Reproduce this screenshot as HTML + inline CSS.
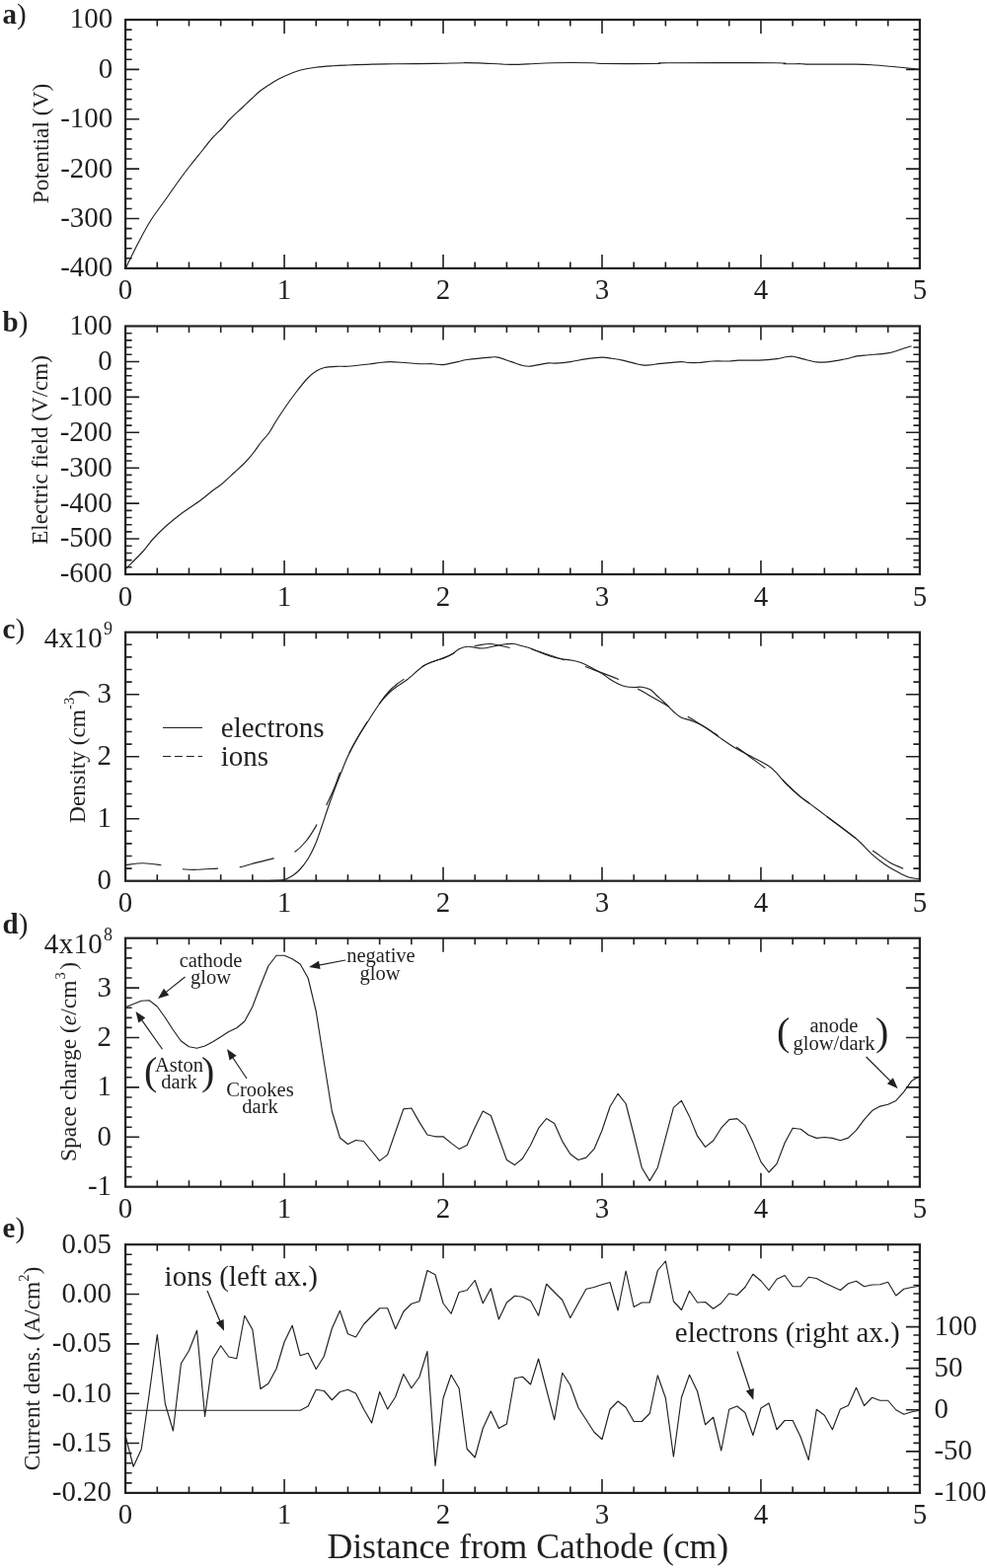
<!DOCTYPE html>
<html lang="en"><head><meta charset="utf-8"><title>Glow discharge profiles</title>
<style>
html,body{margin:0;padding:0;background:#fff}
svg{display:block}
text{font-family:"Liberation Serif", "Times New Roman", serif;fill:#231f20}
.t{font-size:28.9px}
.pl{font-size:29px}
.L{font-size:29px}
.an{font-size:20.5px}
.bp{font-size:40px}
</style></head><body>
<svg width="1000" height="1589" viewBox="0 0 1000 1589">
<rect width="1000" height="1589" fill="#fff"/>
<rect x="127.10" y="20.00" width="804.80" height="251.90" fill="none" stroke="#231f20" stroke-width="2.20"/>
<path d="M127.10 20.00v14.00M127.10 271.90v-14.00M159.29 20.00v6.50M159.29 271.90v-6.50M191.48 20.00v6.50M191.48 271.90v-6.50M223.68 20.00v6.50M223.68 271.90v-6.50M255.87 20.00v6.50M255.87 271.90v-6.50M288.06 20.00v14.00M288.06 271.90v-14.00M320.25 20.00v6.50M320.25 271.90v-6.50M352.44 20.00v6.50M352.44 271.90v-6.50M384.64 20.00v6.50M384.64 271.90v-6.50M416.83 20.00v6.50M416.83 271.90v-6.50M449.02 20.00v14.00M449.02 271.90v-14.00M481.21 20.00v6.50M481.21 271.90v-6.50M513.40 20.00v6.50M513.40 271.90v-6.50M545.60 20.00v6.50M545.60 271.90v-6.50M577.79 20.00v6.50M577.79 271.90v-6.50M609.98 20.00v14.00M609.98 271.90v-14.00M642.17 20.00v6.50M642.17 271.90v-6.50M674.36 20.00v6.50M674.36 271.90v-6.50M706.56 20.00v6.50M706.56 271.90v-6.50M738.75 20.00v6.50M738.75 271.90v-6.50M770.94 20.00v14.00M770.94 271.90v-14.00M803.13 20.00v6.50M803.13 271.90v-6.50M835.32 20.00v6.50M835.32 271.90v-6.50M867.52 20.00v6.50M867.52 271.90v-6.50M899.71 20.00v6.50M899.71 271.90v-6.50M931.90 20.00v14.00M931.90 271.90v-14.00M127.10 70.38h14M127.10 120.76h14M127.10 171.14h14M127.10 221.52h14M127.10 30.08h6.5M127.10 40.15h6.5M127.10 50.23h6.5M127.10 60.30h6.5M127.10 80.46h6.5M127.10 90.53h6.5M127.10 100.61h6.5M127.10 110.68h6.5M127.10 130.84h6.5M127.10 140.91h6.5M127.10 150.99h6.5M127.10 161.06h6.5M127.10 181.22h6.5M127.10 191.29h6.5M127.10 201.37h6.5M127.10 211.44h6.5M127.10 231.60h6.5M127.10 241.67h6.5M127.10 251.75h6.5M127.10 261.82h6.5M931.90 70.38h-14M931.90 120.76h-14M931.90 171.14h-14M931.90 221.52h-14M931.90 30.08h-6.5M931.90 40.15h-6.5M931.90 50.23h-6.5M931.90 60.30h-6.5M931.90 80.46h-6.5M931.90 90.53h-6.5M931.90 100.61h-6.5M931.90 110.68h-6.5M931.90 130.84h-6.5M931.90 140.91h-6.5M931.90 150.99h-6.5M931.90 161.06h-6.5M931.90 181.22h-6.5M931.90 191.29h-6.5M931.90 201.37h-6.5M931.90 211.44h-6.5M931.90 231.60h-6.5M931.90 241.67h-6.5M931.90 251.75h-6.5M931.90 261.82h-6.5" fill="none" stroke="#231f20" stroke-width="1.6"/>
<text x="127.10" y="303.40" text-anchor="middle" class="t">0</text>
<text x="288.06" y="303.40" text-anchor="middle" class="t">1</text>
<text x="449.02" y="303.40" text-anchor="middle" class="t">2</text>
<text x="609.98" y="303.40" text-anchor="middle" class="t">3</text>
<text x="770.94" y="303.40" text-anchor="middle" class="t">4</text>
<text x="931.90" y="303.40" text-anchor="middle" class="t">5</text>
<text x="114.20" y="28.40" text-anchor="end" class="t">100</text>
<text x="114.20" y="78.78" text-anchor="end" class="t">0</text>
<text x="114.20" y="129.16" text-anchor="end" class="t">-100</text>
<text x="114.20" y="179.54" text-anchor="end" class="t">-200</text>
<text x="114.20" y="229.92" text-anchor="end" class="t">-300</text>
<text x="114.20" y="280.30" text-anchor="end" class="t">-400</text>
<text x="2.5" y="23.70" class="pl"><tspan font-weight="bold">a</tspan>)</text>
<text transform="translate(48.50 145.50) rotate(-90)" text-anchor="middle" font-size="23.40">Potential (V)</text>
<path d="M127.50 271.50C129.58 267.29 135.83 254.21 140.00 246.25C144.17 238.29 147.92 231.04 152.50 223.75C157.08 216.46 162.50 209.58 167.50 202.50C172.50 195.42 178.33 187.00 182.50 181.25C186.67 175.50 188.75 172.79 192.50 168.00C196.25 163.21 201.25 157.17 205.00 152.50C208.75 147.83 211.67 143.75 215.00 140.00C218.33 136.25 222.08 133.12 225.00 130.00C227.92 126.88 229.17 124.67 232.50 121.25C235.83 117.83 241.25 113.04 245.00 109.50C248.75 105.96 251.88 102.92 255.00 100.00C258.12 97.08 260.42 94.58 263.75 92.00C267.08 89.42 271.04 86.92 275.00 84.50C278.96 82.08 282.71 79.71 287.50 77.50C292.29 75.29 298.33 72.79 303.75 71.25C309.17 69.71 314.38 69.00 320.00 68.25C325.62 67.50 332.08 67.12 337.50 66.75C342.92 66.38 345.92 66.28 352.50 66.00C359.08 65.72 369.08 65.30 377.00 65.10C384.92 64.90 389.50 64.92 400.00 64.80C410.50 64.68 428.33 64.58 440.00 64.40C451.67 64.22 462.50 63.78 470.00 63.70C477.50 63.62 477.00 63.62 485.00 63.90C493.00 64.18 509.67 65.23 518.00 65.40C526.33 65.57 528.00 65.18 535.00 64.90C542.00 64.62 549.17 63.90 560.00 63.70C570.83 63.50 591.50 63.57 600.00 63.70C608.50 63.83 600.17 64.37 611.00 64.50C621.83 64.63 654.00 64.63 665.00 64.50C676.00 64.37 657.00 63.83 677.00 63.70C697.00 63.57 765.33 63.53 785.00 63.70C804.67 63.87 790.50 64.53 795.00 64.70C799.50 64.87 807.67 64.63 812.00 64.70C816.33 64.77 811.83 65.03 821.00 65.10C830.17 65.17 856.00 64.95 867.00 65.10C878.00 65.25 879.83 65.52 887.00 66.00C894.17 66.48 902.58 67.30 910.00 68.00C917.42 68.70 927.92 69.83 931.50 70.20" fill="none" stroke="#231f20" stroke-width="1.15"/>
<rect x="127.10" y="330.50" width="804.80" height="251.50" fill="none" stroke="#231f20" stroke-width="2.20"/>
<path d="M127.10 330.50v14.00M127.10 582.00v-14.00M159.29 330.50v6.50M159.29 582.00v-6.50M191.48 330.50v6.50M191.48 582.00v-6.50M223.68 330.50v6.50M223.68 582.00v-6.50M255.87 330.50v6.50M255.87 582.00v-6.50M288.06 330.50v14.00M288.06 582.00v-14.00M320.25 330.50v6.50M320.25 582.00v-6.50M352.44 330.50v6.50M352.44 582.00v-6.50M384.64 330.50v6.50M384.64 582.00v-6.50M416.83 330.50v6.50M416.83 582.00v-6.50M449.02 330.50v14.00M449.02 582.00v-14.00M481.21 330.50v6.50M481.21 582.00v-6.50M513.40 330.50v6.50M513.40 582.00v-6.50M545.60 330.50v6.50M545.60 582.00v-6.50M577.79 330.50v6.50M577.79 582.00v-6.50M609.98 330.50v14.00M609.98 582.00v-14.00M642.17 330.50v6.50M642.17 582.00v-6.50M674.36 330.50v6.50M674.36 582.00v-6.50M706.56 330.50v6.50M706.56 582.00v-6.50M738.75 330.50v6.50M738.75 582.00v-6.50M770.94 330.50v14.00M770.94 582.00v-14.00M803.13 330.50v6.50M803.13 582.00v-6.50M835.32 330.50v6.50M835.32 582.00v-6.50M867.52 330.50v6.50M867.52 582.00v-6.50M899.71 330.50v6.50M899.71 582.00v-6.50M931.90 330.50v14.00M931.90 582.00v-14.00M127.10 366.43h14M127.10 402.36h14M127.10 438.29h14M127.10 474.21h14M127.10 510.14h14M127.10 546.07h14M127.10 337.69h6.5M127.10 344.87h6.5M127.10 352.06h6.5M127.10 359.24h6.5M127.10 373.61h6.5M127.10 380.80h6.5M127.10 387.99h6.5M127.10 395.17h6.5M127.10 409.54h6.5M127.10 416.73h6.5M127.10 423.91h6.5M127.10 431.10h6.5M127.10 445.47h6.5M127.10 452.66h6.5M127.10 459.84h6.5M127.10 467.03h6.5M127.10 481.40h6.5M127.10 488.59h6.5M127.10 495.77h6.5M127.10 502.96h6.5M127.10 517.33h6.5M127.10 524.51h6.5M127.10 531.70h6.5M127.10 538.89h6.5M127.10 553.26h6.5M127.10 560.44h6.5M127.10 567.63h6.5M127.10 574.81h6.5M931.90 366.43h-14M931.90 402.36h-14M931.90 438.29h-14M931.90 474.21h-14M931.90 510.14h-14M931.90 546.07h-14M931.90 337.69h-6.5M931.90 344.87h-6.5M931.90 352.06h-6.5M931.90 359.24h-6.5M931.90 373.61h-6.5M931.90 380.80h-6.5M931.90 387.99h-6.5M931.90 395.17h-6.5M931.90 409.54h-6.5M931.90 416.73h-6.5M931.90 423.91h-6.5M931.90 431.10h-6.5M931.90 445.47h-6.5M931.90 452.66h-6.5M931.90 459.84h-6.5M931.90 467.03h-6.5M931.90 481.40h-6.5M931.90 488.59h-6.5M931.90 495.77h-6.5M931.90 502.96h-6.5M931.90 517.33h-6.5M931.90 524.51h-6.5M931.90 531.70h-6.5M931.90 538.89h-6.5M931.90 553.26h-6.5M931.90 560.44h-6.5M931.90 567.63h-6.5M931.90 574.81h-6.5" fill="none" stroke="#231f20" stroke-width="1.6"/>
<text x="127.10" y="613.50" text-anchor="middle" class="t">0</text>
<text x="288.06" y="613.50" text-anchor="middle" class="t">1</text>
<text x="449.02" y="613.50" text-anchor="middle" class="t">2</text>
<text x="609.98" y="613.50" text-anchor="middle" class="t">3</text>
<text x="770.94" y="613.50" text-anchor="middle" class="t">4</text>
<text x="931.90" y="613.50" text-anchor="middle" class="t">5</text>
<text x="113.60" y="338.90" text-anchor="end" class="t">100</text>
<text x="113.60" y="374.83" text-anchor="end" class="t">0</text>
<text x="113.60" y="410.76" text-anchor="end" class="t">-100</text>
<text x="113.60" y="446.69" text-anchor="end" class="t">-200</text>
<text x="113.60" y="482.61" text-anchor="end" class="t">-300</text>
<text x="113.60" y="518.54" text-anchor="end" class="t">-400</text>
<text x="113.60" y="554.47" text-anchor="end" class="t">-500</text>
<text x="113.60" y="590.40" text-anchor="end" class="t">-600</text>
<text x="2.5" y="336.00" class="pl"><tspan font-weight="bold">b</tspan>)</text>
<text transform="translate(48.30 456.00) rotate(-90)" text-anchor="middle" font-size="23.00">Electric field (V/cm)</text>
<path d="M127.50 576.25C130.21 573.54 139.17 565.00 143.75 560.00C148.33 555.00 151.04 550.62 155.00 546.25C158.96 541.88 162.50 538.21 167.50 533.75C172.50 529.29 179.17 523.88 185.00 519.50C190.83 515.12 197.50 511.17 202.50 507.50C207.50 503.83 211.46 500.21 215.00 497.50C218.54 494.79 220.00 494.38 223.75 491.25C227.50 488.12 233.54 482.38 237.50 478.75C241.46 475.12 244.38 472.71 247.50 469.50C250.62 466.29 253.33 463.17 256.25 459.50C259.17 455.83 262.29 450.96 265.00 447.50C267.71 444.04 270.00 442.29 272.50 438.75C275.00 435.21 277.08 430.83 280.00 426.25C282.92 421.67 286.67 416.04 290.00 411.25C293.33 406.46 296.46 402.08 300.00 397.50C303.54 392.92 307.92 387.29 311.25 383.75C314.58 380.21 317.08 378.12 320.00 376.25C322.92 374.38 325.00 373.33 328.75 372.50C332.50 371.67 338.54 371.46 342.50 371.25C346.46 371.04 347.25 371.62 352.50 371.25C357.75 370.88 368.67 369.62 374.00 369.00C379.33 368.38 381.00 367.90 384.50 367.50C388.00 367.10 390.75 366.60 395.00 366.60C399.25 366.60 405.00 367.15 410.00 367.50C415.00 367.85 420.25 368.50 425.00 368.70C429.75 368.90 434.50 368.55 438.50 368.70C442.50 368.85 444.75 369.95 449.00 369.60C453.25 369.25 460.00 367.45 464.00 366.60C468.00 365.75 467.50 365.25 473.00 364.50C478.50 363.75 491.75 362.50 497.00 362.10C502.25 361.70 501.00 361.35 504.50 362.10C508.00 362.85 513.75 365.20 518.00 366.60C522.25 368.00 526.75 369.75 530.00 370.50C533.25 371.25 533.50 371.50 537.50 371.10C541.50 370.70 549.75 368.60 554.00 368.10C558.25 367.60 559.00 368.35 563.00 368.10C567.00 367.85 573.00 367.30 578.00 366.60C583.00 365.90 587.75 364.65 593.00 363.90C598.25 363.15 605.00 362.20 609.50 362.10C614.00 362.00 616.25 362.75 620.00 363.30C623.75 363.85 628.25 364.60 632.00 365.40C635.75 366.20 639.42 367.35 642.50 368.10C645.58 368.85 647.92 369.60 650.50 369.90C653.08 370.20 654.75 370.15 658.00 369.90C661.25 369.65 664.75 368.95 670.00 368.40C675.25 367.85 685.00 366.75 689.50 366.60C694.00 366.45 694.00 367.35 697.00 367.50C700.00 367.65 703.25 367.75 707.50 367.50C711.75 367.25 717.25 366.25 722.50 366.00C727.75 365.75 734.75 366.15 739.00 366.00C743.25 365.85 743.00 365.25 748.00 365.10C753.00 364.95 762.50 365.35 769.00 365.10C775.50 364.85 782.50 364.15 787.00 363.60C791.50 363.05 793.25 362.20 796.00 361.80C798.75 361.40 800.50 360.85 803.50 361.20C806.50 361.55 810.00 362.95 814.00 363.90C818.00 364.85 823.50 366.40 827.50 366.90C831.50 367.40 834.25 367.20 838.00 366.90C841.75 366.60 846.25 365.75 850.00 365.10C853.75 364.45 857.50 363.70 860.50 363.00C863.50 362.30 864.75 361.45 868.00 360.90C871.25 360.35 874.75 360.20 880.00 359.70C885.25 359.20 894.00 358.85 899.50 357.90C905.00 356.95 909.00 355.20 913.00 354.00C917.00 352.80 921.75 351.25 923.50 350.70" fill="none" stroke="#231f20" stroke-width="1.15"/>
<rect x="127.10" y="640.70" width="804.80" height="252.00" fill="none" stroke="#231f20" stroke-width="2.20"/>
<path d="M127.10 640.70v14.00M127.10 892.70v-14.00M159.29 640.70v6.50M159.29 892.70v-6.50M191.48 640.70v6.50M191.48 892.70v-6.50M223.68 640.70v6.50M223.68 892.70v-6.50M255.87 640.70v6.50M255.87 892.70v-6.50M288.06 640.70v14.00M288.06 892.70v-14.00M320.25 640.70v6.50M320.25 892.70v-6.50M352.44 640.70v6.50M352.44 892.70v-6.50M384.64 640.70v6.50M384.64 892.70v-6.50M416.83 640.70v6.50M416.83 892.70v-6.50M449.02 640.70v14.00M449.02 892.70v-14.00M481.21 640.70v6.50M481.21 892.70v-6.50M513.40 640.70v6.50M513.40 892.70v-6.50M545.60 640.70v6.50M545.60 892.70v-6.50M577.79 640.70v6.50M577.79 892.70v-6.50M609.98 640.70v14.00M609.98 892.70v-14.00M642.17 640.70v6.50M642.17 892.70v-6.50M674.36 640.70v6.50M674.36 892.70v-6.50M706.56 640.70v6.50M706.56 892.70v-6.50M738.75 640.70v6.50M738.75 892.70v-6.50M770.94 640.70v14.00M770.94 892.70v-14.00M803.13 640.70v6.50M803.13 892.70v-6.50M835.32 640.70v6.50M835.32 892.70v-6.50M867.52 640.70v6.50M867.52 892.70v-6.50M899.71 640.70v6.50M899.71 892.70v-6.50M931.90 640.70v14.00M931.90 892.70v-14.00M127.10 703.70h14M127.10 766.70h14M127.10 829.70h14M127.10 653.30h6.5M127.10 665.90h6.5M127.10 678.50h6.5M127.10 691.10h6.5M127.10 716.30h6.5M127.10 728.90h6.5M127.10 741.50h6.5M127.10 754.10h6.5M127.10 779.30h6.5M127.10 791.90h6.5M127.10 804.50h6.5M127.10 817.10h6.5M127.10 842.30h6.5M127.10 854.90h6.5M127.10 867.50h6.5M127.10 880.10h6.5M931.90 703.70h-14M931.90 766.70h-14M931.90 829.70h-14M931.90 653.30h-6.5M931.90 665.90h-6.5M931.90 678.50h-6.5M931.90 691.10h-6.5M931.90 716.30h-6.5M931.90 728.90h-6.5M931.90 741.50h-6.5M931.90 754.10h-6.5M931.90 779.30h-6.5M931.90 791.90h-6.5M931.90 804.50h-6.5M931.90 817.10h-6.5M931.90 842.30h-6.5M931.90 854.90h-6.5M931.90 867.50h-6.5M931.90 880.10h-6.5" fill="none" stroke="#231f20" stroke-width="1.6"/>
<text x="127.10" y="924.20" text-anchor="middle" class="t">0</text>
<text x="288.06" y="924.20" text-anchor="middle" class="t">1</text>
<text x="449.02" y="924.20" text-anchor="middle" class="t">2</text>
<text x="609.98" y="924.20" text-anchor="middle" class="t">3</text>
<text x="770.94" y="924.20" text-anchor="middle" class="t">4</text>
<text x="931.90" y="924.20" text-anchor="middle" class="t">5</text>
<text x="113.00" y="712.10" text-anchor="end" class="t">3</text>
<text x="113.00" y="775.10" text-anchor="end" class="t">2</text>
<text x="113.00" y="838.10" text-anchor="end" class="t">1</text>
<text x="113.00" y="901.10" text-anchor="end" class="t">0</text>
<text x="104.2" y="656.1" text-anchor="end" class="t" letter-spacing="0.4">4x10</text><text x="105" y="642.7" font-size="18">9</text>
<text x="2.5" y="647.30" class="pl"><tspan font-weight="bold">c</tspan>)</text>
<text transform="translate(86.10 766.50) rotate(-90)" text-anchor="middle" font-size="23.40">Density (cm<tspan font-size="14.5" dy="-10.7">-3</tspan><tspan dy="10.7">)</tspan></text>
<path d="M127.50 892.70C150.42 892.70 240.42 892.75 265.00 892.70C289.58 892.65 271.25 892.58 275.00 892.40C278.75 892.22 283.96 892.42 287.50 891.60C291.04 890.78 293.54 889.23 296.25 887.50C298.96 885.77 301.08 884.17 303.75 881.25C306.42 878.33 309.58 874.38 312.25 870.00C314.92 865.62 317.46 860.42 319.75 855.00C322.04 849.58 323.92 843.54 326.00 837.50C328.08 831.46 330.17 824.79 332.25 818.75C334.33 812.71 336.24 807.29 338.50 801.25C340.76 795.21 343.47 788.33 345.80 782.50C348.13 776.67 349.72 772.08 352.50 766.25C355.28 760.42 358.75 753.96 362.50 747.50C366.25 741.04 371.25 733.33 375.00 727.50C378.75 721.67 381.88 716.67 385.00 712.50C388.12 708.33 390.83 705.33 393.75 702.50C396.67 699.67 399.38 697.79 402.50 695.50C405.62 693.21 408.12 692.17 412.50 688.75C416.88 685.33 424.17 678.12 428.75 675.00C433.33 671.88 436.46 671.40 440.00 670.00C443.54 668.60 446.88 667.85 450.00 666.60C453.12 665.35 456.25 663.98 458.75 662.50C461.25 661.02 462.50 658.90 465.00 657.70C467.50 656.50 469.79 655.42 473.75 655.30C477.71 655.18 484.38 657.05 488.75 657.00C493.12 656.95 496.46 655.67 500.00 655.00C503.54 654.33 506.67 653.42 510.00 653.00C513.33 652.58 517.08 652.29 520.00 652.50C522.92 652.71 524.58 653.50 527.50 654.25C530.42 655.00 534.17 655.83 537.50 657.00C540.83 658.17 544.17 659.92 547.50 661.25C550.83 662.58 554.17 663.96 557.50 665.00C560.83 666.04 563.75 666.79 567.50 667.50C571.25 668.21 576.25 668.50 580.00 669.25C583.75 670.00 586.67 670.71 590.00 672.00C593.33 673.29 596.67 675.25 600.00 677.00C603.33 678.75 607.08 680.67 610.00 682.50C612.92 684.33 614.79 686.25 617.50 688.00C620.21 689.75 623.54 691.71 626.25 693.00C628.96 694.29 631.04 695.17 633.75 695.75C636.46 696.33 639.79 696.42 642.50 696.50C645.21 696.58 647.29 695.88 650.00 696.25C652.71 696.62 656.25 697.38 658.75 698.75C661.25 700.12 662.50 702.21 665.00 704.50C667.50 706.79 670.83 709.71 673.75 712.50C676.67 715.29 679.73 718.78 682.50 721.25C685.27 723.72 687.35 725.77 690.40 727.30C693.45 728.82 696.90 728.88 700.80 730.40C704.70 731.92 709.03 733.53 713.80 736.40C718.57 739.27 724.20 744.00 729.40 747.60C734.60 751.20 739.80 754.88 745.00 758.00C750.20 761.12 754.97 763.27 760.60 766.30C766.23 769.33 774.47 773.38 778.80 776.20C783.13 779.02 783.57 780.08 786.60 783.20C789.63 786.32 793.10 791.00 797.00 794.90C800.90 798.80 806.10 803.35 810.00 806.60C813.90 809.85 816.07 811.15 820.40 814.40C824.73 817.65 830.80 822.20 836.00 826.10C841.20 830.00 846.18 833.68 851.60 837.80C857.02 841.92 863.30 846.25 868.50 850.80C873.70 855.35 878.25 860.98 882.80 865.10C887.35 869.22 891.47 872.47 895.80 875.50C900.13 878.53 904.90 881.13 908.80 883.30C912.70 885.47 916.38 887.38 919.20 888.50C922.02 889.62 923.65 889.65 925.70 890.00C927.75 890.35 930.53 890.50 931.50 890.60" fill="none" stroke="#231f20" stroke-width="1.15"/>
<path d="M127.50 876.50C130.42 876.20 139.25 874.70 145.00 874.70C150.75 874.70 157.33 875.78 162.00 876.50C166.67 877.22 169.33 878.30 173.00 879.00C176.67 879.70 179.67 880.32 184.00 880.70C188.33 881.08 193.00 881.40 199.00 881.30C205.00 881.20 214.67 880.38 220.00 880.10C225.33 879.82 227.25 879.80 231.00 879.60C234.75 879.40 237.83 879.77 242.50 878.90C247.17 878.03 253.25 875.90 259.00 874.40C264.75 872.90 272.17 871.13 277.00 869.90C281.83 868.67 284.50 868.00 288.00 867.00C291.50 866.00 294.33 866.32 298.00 863.90C301.67 861.48 306.25 857.05 310.00 852.50C313.75 847.95 317.92 841.02 320.50 836.60C323.08 832.18 323.85 829.35 325.50 826.00C327.15 822.65 328.23 821.00 330.40 816.50C332.57 812.00 336.07 804.83 338.50 799.00C340.93 793.17 342.67 787.08 345.00 781.50C347.33 775.92 349.58 771.25 352.50 765.50C355.42 759.75 358.75 753.42 362.50 747.00C366.25 740.58 371.25 732.83 375.00 727.00C378.75 721.17 381.88 716.33 385.00 712.00C388.12 707.67 390.83 704.17 393.75 701.00C396.67 697.83 399.79 695.17 402.50 693.00C405.21 690.83 407.08 689.83 410.00 688.00C412.92 686.17 416.88 684.17 420.00 682.00C423.12 679.83 425.42 677.00 428.75 675.00C432.08 673.00 436.46 671.40 440.00 670.00C443.54 668.60 446.88 667.85 450.00 666.60C453.12 665.35 456.25 663.93 458.75 662.50C461.25 661.07 462.50 659.20 465.00 658.00C467.50 656.80 470.83 655.92 473.75 655.30C476.67 654.67 478.54 654.72 482.50 654.25C486.46 653.78 491.67 652.12 497.50 652.50C503.33 652.88 512.50 656.00 517.50 656.50C522.50 657.00 523.75 655.21 527.50 655.50C531.25 655.79 532.29 655.92 540.00 658.25C547.71 660.58 566.25 667.12 573.75 669.50C581.25 671.88 581.46 671.38 585.00 672.50C588.54 673.62 587.71 673.46 595.00 676.25C602.29 679.04 621.25 686.04 628.75 689.25C636.25 692.46 636.67 693.79 640.00 695.50C643.33 697.21 642.08 695.83 648.75 699.50C655.42 703.17 673.06 713.50 680.00 717.50C686.94 721.50 687.15 721.78 690.40 723.50C693.65 725.22 693.00 723.92 699.50 727.80C706.00 731.68 722.65 742.52 729.40 746.80C736.15 751.08 736.75 751.47 740.00 753.50C743.25 755.53 742.65 754.62 748.90 759.00C755.15 763.38 771.22 775.63 777.50 779.80C783.78 783.97 783.35 781.55 786.60 784.00C789.85 786.45 793.10 790.73 797.00 794.50C800.90 798.27 806.10 803.28 810.00 806.60C813.90 809.92 816.07 811.15 820.40 814.40C824.73 817.65 830.80 822.20 836.00 826.10C841.20 830.00 846.18 833.68 851.60 837.80C857.02 841.92 864.10 847.43 868.50 850.80C872.90 854.17 874.83 855.75 878.00 858.00C881.17 860.25 883.67 861.68 887.50 864.30C891.33 866.92 896.37 871.05 901.00 873.70C905.63 876.35 912.35 879.03 915.30 880.20C918.25 881.37 918.13 880.62 918.70 880.70" fill="none" stroke="#231f20" stroke-width="1.15" stroke-dasharray="36 22"/>
<line x1="165" y1="737.5" x2="205" y2="737.5" stroke="#231f20" stroke-width="1.15"/>
<line x1="165" y1="766.5" x2="205" y2="766.5" stroke="#231f20" stroke-width="1.2" stroke-dasharray="8 3.9"/>
<text x="223.8" y="747.3" class="L">electrons</text>
<text x="223.8" y="776" class="L">ions</text>
<rect x="127.10" y="950.70" width="804.80" height="252.00" fill="none" stroke="#231f20" stroke-width="2.20"/>
<path d="M127.10 950.70v14.00M127.10 1202.70v-14.00M159.29 950.70v6.50M159.29 1202.70v-6.50M191.48 950.70v6.50M191.48 1202.70v-6.50M223.68 950.70v6.50M223.68 1202.70v-6.50M255.87 950.70v6.50M255.87 1202.70v-6.50M288.06 950.70v14.00M288.06 1202.70v-14.00M320.25 950.70v6.50M320.25 1202.70v-6.50M352.44 950.70v6.50M352.44 1202.70v-6.50M384.64 950.70v6.50M384.64 1202.70v-6.50M416.83 950.70v6.50M416.83 1202.70v-6.50M449.02 950.70v14.00M449.02 1202.70v-14.00M481.21 950.70v6.50M481.21 1202.70v-6.50M513.40 950.70v6.50M513.40 1202.70v-6.50M545.60 950.70v6.50M545.60 1202.70v-6.50M577.79 950.70v6.50M577.79 1202.70v-6.50M609.98 950.70v14.00M609.98 1202.70v-14.00M642.17 950.70v6.50M642.17 1202.70v-6.50M674.36 950.70v6.50M674.36 1202.70v-6.50M706.56 950.70v6.50M706.56 1202.70v-6.50M738.75 950.70v6.50M738.75 1202.70v-6.50M770.94 950.70v14.00M770.94 1202.70v-14.00M803.13 950.70v6.50M803.13 1202.70v-6.50M835.32 950.70v6.50M835.32 1202.70v-6.50M867.52 950.70v6.50M867.52 1202.70v-6.50M899.71 950.70v6.50M899.71 1202.70v-6.50M931.90 950.70v14.00M931.90 1202.70v-14.00M127.10 1001.10h14M127.10 1051.50h14M127.10 1101.90h14M127.10 1152.30h14M127.10 960.78h6.5M127.10 970.86h6.5M127.10 980.94h6.5M127.10 991.02h6.5M127.10 1011.18h6.5M127.10 1021.26h6.5M127.10 1031.34h6.5M127.10 1041.42h6.5M127.10 1061.58h6.5M127.10 1071.66h6.5M127.10 1081.74h6.5M127.10 1091.82h6.5M127.10 1111.98h6.5M127.10 1122.06h6.5M127.10 1132.14h6.5M127.10 1142.22h6.5M127.10 1162.38h6.5M127.10 1172.46h6.5M127.10 1182.54h6.5M127.10 1192.62h6.5M931.90 1001.10h-14M931.90 1051.50h-14M931.90 1101.90h-14M931.90 1152.30h-14M931.90 960.78h-6.5M931.90 970.86h-6.5M931.90 980.94h-6.5M931.90 991.02h-6.5M931.90 1011.18h-6.5M931.90 1021.26h-6.5M931.90 1031.34h-6.5M931.90 1041.42h-6.5M931.90 1061.58h-6.5M931.90 1071.66h-6.5M931.90 1081.74h-6.5M931.90 1091.82h-6.5M931.90 1111.98h-6.5M931.90 1122.06h-6.5M931.90 1132.14h-6.5M931.90 1142.22h-6.5M931.90 1162.38h-6.5M931.90 1172.46h-6.5M931.90 1182.54h-6.5M931.90 1192.62h-6.5" fill="none" stroke="#231f20" stroke-width="1.6"/>
<text x="127.10" y="1234.20" text-anchor="middle" class="t">0</text>
<text x="288.06" y="1234.20" text-anchor="middle" class="t">1</text>
<text x="449.02" y="1234.20" text-anchor="middle" class="t">2</text>
<text x="609.98" y="1234.20" text-anchor="middle" class="t">3</text>
<text x="770.94" y="1234.20" text-anchor="middle" class="t">4</text>
<text x="931.90" y="1234.20" text-anchor="middle" class="t">5</text>
<text x="113.00" y="1009.50" text-anchor="end" class="t">3</text>
<text x="113.00" y="1059.90" text-anchor="end" class="t">2</text>
<text x="113.00" y="1110.30" text-anchor="end" class="t">1</text>
<text x="113.00" y="1160.70" text-anchor="end" class="t">0</text>
<text x="113.00" y="1211.10" text-anchor="end" class="t">-1</text>
<text x="104.2" y="966.4" text-anchor="end" class="t" letter-spacing="0.4">4x10</text><text x="105" y="953" font-size="18">8</text>
<text x="2.5" y="946.20" class="pl"><tspan font-weight="bold">d</tspan>)</text>
<text transform="translate(76.60 1076.00) rotate(-90)" text-anchor="middle" font-size="23.50">Space charge (<tspan font-style="italic">e</tspan>/cm<tspan font-size="14.5" dy="-10.7" dx="1">3</tspan><tspan dy="10.7" dx="2.5">)</tspan></text>
<polyline points="127.10,1020.75 135.15,1017.50 143.20,1014.25 151.24,1013.75 159.29,1020.00 167.34,1031.25 175.39,1043.75 183.44,1055.00 191.48,1060.75 199.53,1062.25 207.58,1060.00 215.63,1055.75 223.68,1050.75 231.72,1045.50 239.77,1041.75 247.82,1035.00 255.87,1020.00 263.92,998.75 271.96,978.75 280.01,968.25 288.06,968.25 296.11,971.75 304.16,977.00 312.20,991.25 320.25,1025.00 328.30,1076.25 336.35,1126.25 344.40,1153.00 352.44,1159.50 360.49,1155.50 368.54,1156.50 376.59,1166.50 384.64,1176.40 392.68,1170.10 400.73,1147.00 408.78,1123.90 416.83,1123.00 424.88,1137.10 432.92,1150.00 440.97,1151.80 449.02,1151.80 457.07,1158.40 465.12,1164.40 473.16,1160.50 481.21,1142.50 489.26,1126.00 497.31,1130.50 505.36,1153.00 513.40,1175.50 521.45,1180.60 529.50,1174.00 537.55,1160.50 545.60,1143.40 553.64,1133.50 561.69,1138.60 569.74,1156.60 577.79,1169.50 585.84,1175.50 593.88,1173.10 601.93,1164.40 609.98,1145.50 618.03,1121.50 626.08,1108.30 634.12,1118.50 642.17,1150.00 650.22,1183.20 658.27,1196.60 666.32,1183.20 674.36,1152.80 682.41,1122.40 690.46,1115.40 698.51,1131.40 706.56,1151.20 714.60,1162.40 722.65,1156.00 730.70,1143.20 738.75,1134.60 746.80,1133.60 754.84,1140.60 762.89,1157.60 770.94,1177.40 778.99,1188.00 787.04,1179.40 795.08,1158.20 803.13,1143.20 811.18,1144.20 819.23,1150.20 827.28,1153.40 835.32,1152.50 843.37,1153.40 851.42,1155.70 859.47,1153.10 867.52,1145.40 875.56,1134.60 883.61,1125.60 891.66,1121.10 899.71,1119.20 907.76,1115.40 915.80,1106.40 923.85,1095.20 931.90,1090.40" fill="none" stroke="#231f20" stroke-width="1.15" stroke-linejoin="round"/>
<text x="213.5" y="979.5" text-anchor="middle" class="an">cathode</text>
<text x="213.5" y="996.5" text-anchor="middle" class="an">glow</text>
<line x1="187.50" y1="990.00" x2="167.03" y2="1006.38" stroke="#231f20" stroke-width="1.2"/>
<polygon points="160.00,1012.00 165.97,1001.85 171.21,1008.41" fill="#231f20"/>
<line x1="164.50" y1="1063.25" x2="142.69" y2="1032.35" stroke="#231f20" stroke-width="1.2"/>
<polygon points="137.50,1025.00 147.27,1031.56 140.41,1036.41" fill="#231f20"/>
<text x="181.5" y="1086" text-anchor="middle" class="an">Aston</text>
<text x="181.5" y="1102.5" text-anchor="middle" class="an">dark</text>
<text x="146" y="1099" class="bp">(</text><text x="204" y="1099" class="bp">)</text>
<line x1="250.00" y1="1093.00" x2="234.99" y2="1070.49" stroke="#231f20" stroke-width="1.2"/>
<polygon points="230.00,1063.00 239.60,1069.82 232.61,1074.48" fill="#231f20"/>
<text x="263.5" y="1111" text-anchor="middle" class="an">Crookes</text>
<text x="263.5" y="1128" text-anchor="middle" class="an">dark</text>
<line x1="350.00" y1="973.00" x2="321.84" y2="978.33" stroke="#231f20" stroke-width="1.2"/>
<polygon points="313.00,980.00 323.03,973.83 324.59,982.08" fill="#231f20"/>
<text x="386" y="974.5" text-anchor="middle" class="an">negative</text>
<text x="385" y="993" text-anchor="middle" class="an">glow</text>
<text x="845" y="1045.5" text-anchor="middle" class="an">anode</text>
<text x="845" y="1063.5" text-anchor="middle" class="an">glow/dark</text>
<text x="787" y="1058.5" class="bp">(</text><text x="887" y="1058.5" class="bp">)</text>
<line x1="877.60" y1="1071.00" x2="903.24" y2="1096.64" stroke="#231f20" stroke-width="1.2"/>
<polygon points="909.60,1103.00 898.85,1098.19 904.79,1092.25" fill="#231f20"/>
<rect x="127.10" y="1261.20" width="804.80" height="251.70" fill="none" stroke="#231f20" stroke-width="2.20"/>
<path d="M127.10 1261.20v14.00M127.10 1512.90v-14.00M159.29 1261.20v6.50M159.29 1512.90v-6.50M191.48 1261.20v6.50M191.48 1512.90v-6.50M223.68 1261.20v6.50M223.68 1512.90v-6.50M255.87 1261.20v6.50M255.87 1512.90v-6.50M288.06 1261.20v14.00M288.06 1512.90v-14.00M320.25 1261.20v6.50M320.25 1512.90v-6.50M352.44 1261.20v6.50M352.44 1512.90v-6.50M384.64 1261.20v6.50M384.64 1512.90v-6.50M416.83 1261.20v6.50M416.83 1512.90v-6.50M449.02 1261.20v14.00M449.02 1512.90v-14.00M481.21 1261.20v6.50M481.21 1512.90v-6.50M513.40 1261.20v6.50M513.40 1512.90v-6.50M545.60 1261.20v6.50M545.60 1512.90v-6.50M577.79 1261.20v6.50M577.79 1512.90v-6.50M609.98 1261.20v14.00M609.98 1512.90v-14.00M642.17 1261.20v6.50M642.17 1512.90v-6.50M674.36 1261.20v6.50M674.36 1512.90v-6.50M706.56 1261.20v6.50M706.56 1512.90v-6.50M738.75 1261.20v6.50M738.75 1512.90v-6.50M770.94 1261.20v14.00M770.94 1512.90v-14.00M803.13 1261.20v6.50M803.13 1512.90v-6.50M835.32 1261.20v6.50M835.32 1512.90v-6.50M867.52 1261.20v6.50M867.52 1512.90v-6.50M899.71 1261.20v6.50M899.71 1512.90v-6.50M931.90 1261.20v14.00M931.90 1512.90v-14.00M127.10 1311.54h14M127.10 1361.88h14M127.10 1412.22h14M127.10 1462.56h14M127.10 1271.27h6.5M127.10 1281.34h6.5M127.10 1291.40h6.5M127.10 1301.47h6.5M127.10 1321.61h6.5M127.10 1331.68h6.5M127.10 1341.74h6.5M127.10 1351.81h6.5M127.10 1371.95h6.5M127.10 1382.02h6.5M127.10 1392.08h6.5M127.10 1402.15h6.5M127.10 1422.29h6.5M127.10 1432.36h6.5M127.10 1442.42h6.5M127.10 1452.49h6.5M127.10 1472.63h6.5M127.10 1482.70h6.5M127.10 1492.76h6.5M127.10 1502.83h6.5M931.90 1344.60h-14M931.90 1386.67h-14M931.90 1428.75h-14M931.90 1470.83h-14M931.90 1504.49h-6.5M931.90 1496.07h-6.5M931.90 1487.65h-6.5M931.90 1479.24h-6.5M931.90 1462.41h-6.5M931.90 1454.00h-6.5M931.90 1445.58h-6.5M931.90 1437.16h-6.5M931.90 1420.34h-6.5M931.90 1411.92h-6.5M931.90 1403.50h-6.5M931.90 1395.09h-6.5M931.90 1378.26h-6.5M931.90 1369.85h-6.5M931.90 1361.43h-6.5M931.90 1353.01h-6.5M931.90 1336.18h-6.5M931.90 1327.77h-6.5M931.90 1319.35h-6.5M931.90 1310.94h-6.5M931.90 1302.52h-6.5M931.90 1294.11h-6.5M931.90 1285.69h-6.5M931.90 1277.28h-6.5M931.90 1268.86h-6.5" fill="none" stroke="#231f20" stroke-width="1.6"/>
<text x="127.10" y="1544.40" text-anchor="middle" class="t">0</text>
<text x="288.06" y="1544.40" text-anchor="middle" class="t">1</text>
<text x="449.02" y="1544.40" text-anchor="middle" class="t">2</text>
<text x="609.98" y="1544.40" text-anchor="middle" class="t">3</text>
<text x="770.94" y="1544.40" text-anchor="middle" class="t">4</text>
<text x="931.90" y="1544.40" text-anchor="middle" class="t">5</text>
<text x="113.00" y="1269.60" text-anchor="end" class="t">0.05</text>
<text x="113.00" y="1319.94" text-anchor="end" class="t">0.00</text>
<text x="113.00" y="1370.28" text-anchor="end" class="t">-0.05</text>
<text x="113.00" y="1420.62" text-anchor="end" class="t">-0.10</text>
<text x="113.00" y="1470.96" text-anchor="end" class="t">-0.15</text>
<text x="113.00" y="1521.30" text-anchor="end" class="t">-0.20</text>
<text x="946.5" y="1353.00" class="t">100</text>
<text x="946.5" y="1395.08" class="t">50</text>
<text x="946.5" y="1437.15" class="t">0</text>
<text x="946.5" y="1479.23" class="t">-50</text>
<text x="946.5" y="1521.30" class="t">-100</text>
<text x="2.5" y="1253.60" class="pl"><tspan font-weight="bold">e</tspan>)</text>
<text transform="translate(40.00 1387.00) rotate(-90)" text-anchor="middle" font-size="23.40">Current dens. (A/cm<tspan font-size="14.5" dy="-10.7">2</tspan><tspan dy="10.7">)</tspan></text>
<polyline points="127.10,1455.00 135.15,1486.25 143.20,1468.75 151.24,1412.50 159.29,1352.50 167.34,1422.50 175.39,1450.00 183.44,1381.75 191.48,1368.75 199.53,1348.25 207.58,1435.50 215.63,1377.00 223.68,1363.75 231.72,1375.00 239.77,1376.75 247.82,1333.25 255.87,1347.50 263.92,1407.50 271.96,1402.00 280.01,1387.00 288.06,1360.00 296.11,1343.25 304.16,1373.75 312.20,1371.25 320.25,1387.50 328.30,1374.50 336.35,1346.25 344.40,1328.25 352.44,1351.75 360.49,1355.00 368.54,1342.00 376.59,1333.75 384.64,1325.75 392.68,1325.75 400.73,1346.75 408.78,1329.25 416.83,1321.25 424.88,1318.75 432.92,1287.50 440.97,1291.75 449.02,1320.75 457.07,1331.25 465.12,1309.50 473.16,1307.50 481.21,1297.50 489.26,1320.75 497.31,1305.75 505.36,1337.00 513.40,1320.00 521.45,1313.25 529.50,1314.25 537.55,1318.25 545.60,1333.25 553.64,1301.25 561.69,1309.50 569.74,1317.50 577.79,1335.50 585.84,1320.75 593.88,1306.25 601.93,1304.50 609.98,1301.75 618.03,1299.50 626.08,1328.00 634.12,1288.00 642.17,1324.50 650.22,1320.00 658.27,1320.00 666.32,1287.50 674.36,1278.00 682.41,1318.75 690.46,1327.50 698.51,1308.25 706.56,1320.00 714.60,1319.50 722.65,1326.25 730.70,1320.75 738.75,1310.75 746.80,1312.50 754.84,1304.50 762.89,1291.25 770.94,1298.00 778.99,1307.50 787.04,1296.25 795.08,1292.50 803.13,1303.75 811.18,1303.75 819.23,1294.25 827.28,1295.50 835.32,1300.00 843.37,1303.75 851.42,1307.50 859.47,1300.75 867.52,1298.25 875.56,1303.75 883.61,1302.00 891.66,1301.75 899.71,1299.25 907.76,1313.00 915.80,1306.25 923.85,1304.50 931.90,1303.25" fill="none" stroke="#231f20" stroke-width="1.15" stroke-linejoin="round"/>
<polyline points="127.10,1429.25 135.15,1429.25 143.20,1429.25 151.24,1429.25 159.29,1429.25 167.34,1429.25 175.39,1429.25 183.44,1429.25 191.48,1429.25 199.53,1429.25 207.58,1429.25 215.63,1429.25 223.68,1429.25 231.72,1429.25 239.77,1429.25 247.82,1429.25 255.87,1429.25 263.92,1429.25 271.96,1429.25 280.01,1429.25 288.06,1429.25 296.11,1429.25 304.16,1429.25 312.20,1425.00 320.25,1408.25 328.30,1409.50 336.35,1418.75 344.40,1410.50 352.44,1408.25 360.49,1412.00 368.54,1428.00 376.59,1442.00 384.64,1410.50 392.68,1428.00 400.73,1415.50 408.78,1392.50 416.83,1406.75 424.88,1395.50 432.92,1369.50 440.97,1485.50 449.02,1417.00 457.07,1393.25 465.12,1407.00 473.16,1468.25 481.21,1477.00 489.26,1447.50 497.31,1430.00 505.36,1447.50 513.40,1443.00 521.45,1396.75 529.50,1395.25 537.55,1403.00 545.60,1377.00 553.64,1408.00 561.69,1438.75 569.74,1391.25 577.79,1403.75 585.84,1426.25 593.88,1438.75 601.93,1451.25 609.98,1458.75 618.03,1428.25 626.08,1420.00 634.12,1426.25 642.17,1440.50 650.22,1440.50 658.27,1432.50 666.32,1393.75 674.36,1416.75 682.41,1476.25 690.46,1416.25 698.51,1393.25 706.56,1410.00 714.60,1443.75 722.65,1436.25 730.70,1470.00 738.75,1428.25 746.80,1425.00 754.84,1431.50 762.89,1454.50 770.94,1427.00 778.99,1422.00 787.04,1448.75 795.08,1439.50 803.13,1439.50 811.18,1456.25 819.23,1479.50 827.28,1428.25 835.32,1434.25 843.37,1448.75 851.42,1428.00 859.47,1424.25 867.52,1406.25 875.56,1424.50 883.61,1416.25 891.66,1419.25 899.71,1419.25 907.76,1428.75 915.80,1433.25 923.85,1430.75 931.90,1429.25" fill="none" stroke="#231f20" stroke-width="1.15" stroke-linejoin="round"/>
<text x="166.6" y="1303.25" class="L">ions (left ax.)</text>
<line x1="210.00" y1="1308.00" x2="223.53" y2="1340.44" stroke="#231f20" stroke-width="1.2"/>
<polygon points="227.00,1348.75 218.89,1340.22 226.64,1336.98" fill="#231f20"/>
<text x="683.8" y="1360" class="L">electrons (right ax.)</text>
<line x1="747.00" y1="1369.50" x2="760.43" y2="1410.20" stroke="#231f20" stroke-width="1.2"/>
<polygon points="763.25,1418.75 755.81,1409.62 763.79,1406.99" fill="#231f20"/>
<text x="534.8" y="1578.8" text-anchor="middle" font-size="35.65">Distance from Cathode (cm)</text>
</svg>
</body></html>
